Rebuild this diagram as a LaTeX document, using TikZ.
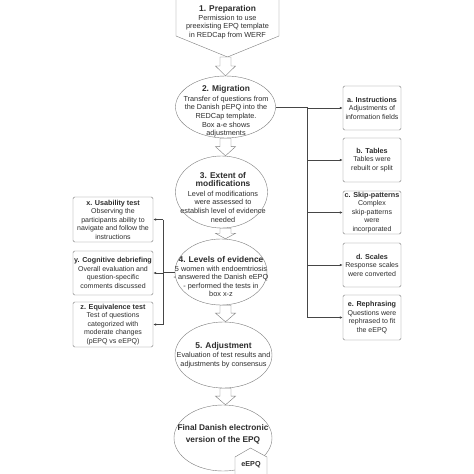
\documentclass[tikz,border=0pt]{standalone}
\usepackage{fontspec}
\setmainfont{Liberation Sans}
\usetikzlibrary{shapes.geometric,arrows.meta,calc}
\definecolor{bordc}{RGB}{125,125,125}
\definecolor{linec}{RGB}{70,70,70}
\definecolor{textc}{RGB}{45,45,45}
\newcommand\etitle[1]{{\fontsize{8.4}{8.6}\selectfont\bfseries #1}}
\newcommand\btitle[1]{{\fontsize{7.2}{8.5}\selectfont\bfseries #1}}
\newcommand\barrow[2]{%
  \path let \p1=(#1), \p2=(#2), \p3=($(#1)!0.48!(#2)$) in
  [draw=bordc, fill=white, line join=miter]
  (\x1-5.5pt,\y1) -- (\x1+5.5pt,\y1) -- (\x1+5.5pt,\y3) -- (\x1+10pt,\y3)
  -- (\x1,\y2) -- (\x1-10pt,\y3) -- (\x1-5.5pt,\y3) -- cycle;}
\tikzset{
  ell/.style={ellipse, draw=bordc, fill=white, inner sep=0pt},
  etext/.style={align=center, text=textc, inner sep=0pt, font=\fontsize{7.3}{8.6}\selectfont},
  box/.style={draw=bordc, fill=white, rounded corners=1.5pt, inner sep=1pt, align=center,
    text=textc, font=\fontsize{7}{8.5}\selectfont, minimum width=58pt, minimum height=44pt},
  lbox/.style={box, minimum width=80pt},
  line/.style={draw=linec, line width=0.6pt},
  conn/.style={line, -{Latex[length=3pt,width=2.6pt]}},
}
\begin{document}
\begin{tikzpicture}[x=1pt, y=-1pt]
\useasboundingbox[fill=white] (0,0) rectangle (474,474);
% 1. Preparation
\draw[bordc, fill=white] (176,-3) -- (279,-3) -- (279,36) -- (227.5,57) -- (176,36) -- cycle;
\coordinate (p1tip) at (227.5,57);
\coordinate (axis) at (225.5,0);
\node[etext] (t1) at (227.5,22) {\etitle{1. Preparation}\\[0.4pt]Permission to use\\preexisting EPQ template\\in REDCap from WERF};
% ellipses
\node[ell, minimum width=100pt, minimum height=62pt] (e2) at (225.5,107) {};
\node[etext] (t2) at (226,111.5) {\etitle{2. Migration}\\[1pt]Transfer of questions from\\the Danish pEPQ into the\\REDCap template.\\Box a-e shows\\adjustments};
\node[ell, minimum width=92pt, minimum height=72pt] (e3) at (221.5,192) {};
\node[etext] (t3) at (223,197) {\etitle{3. Extent of}\\\etitle{modifications}\\[1pt]Level of modifications\\were assessed to\\establish level of evidence\\needed};
\node[ell, minimum width=92pt, minimum height=66pt] (e4) at (221,272) {};
\node[etext] (t4) at (221,276.5) {\etitle{4. Levels of evidence}\\[0.5pt]5 women with endoemtriosis\\- answered the Danish eEPQ\\- performed the tests in\\box x-z};
\node[ell, minimum width=97pt, minimum height=66pt] (e5) at (223.5,355) {};
\node[etext] (t5) at (223.5,355) {\etitle{5. Adjustment}\\[1pt]Evaluation of test results and\\adjustments by consensus};
\node[ell, minimum width=98pt, minimum height=66pt] (e6) at (223,438) {};
\node[etext, font=\fontsize{8.3}{12}\selectfont\bfseries] (t6) at (223,434.5) {Final Danish electronic\\version of the EPQ};
% block arrows
\barrow{p1tip -| axis}{e2.north -| axis}
\barrow{e2.south -| axis}{e3.north -| axis}
\barrow{e3.south -| axis}{e4.north -| axis}
\barrow{e4.south -| axis}{e5.north -| axis}
\barrow{e5.south -| axis}{e6.north -| axis}
% eEPQ tab
\draw[bordc, fill=white] (235,480) -- (235,457) -- (250.5,448) -- (267,457) -- (267,480);
\node[text=textc, font=\fontsize{7.2}{8.5}\selectfont\bfseries] (ep) at (251,464.5) {eEPQ};
% right boxes
\node[box] (a) at (372,108) {\btitle{a. Instructions}\\Adjustments of\\information fields};
\node[box] (b) at (372,160) {\btitle{b. Tables}\\Tables were\\rebuilt or split};
\node[box, minimum height=43pt] (c) at (372,212.5) {\btitle{c. Skip-patterns}\\Complex\\skip-patterns\\were\\incorporated};
\node[box] (d) at (372,265) {\btitle{d. Scales}\\Response scales\\were converted};
\node[box, minimum height=45pt] (e) at (372,317.5) {\btitle{e. Rephrasing}\\Questions were\\rephrased to fit\\the eEPQ};
\coordinate (rt) at (307,0);
\draw[line] (e2.east) -- (e2.east -| rt) -- (e.west -| rt);
\foreach \b in {a,b,c,d,e} \draw[conn] (\b.west -| rt) -- (\b.west);
% left boxes
\node[lbox, minimum height=45pt] (x) at (113,219.5) {\btitle{x. Usability test}\\Observing the\\participants ability to\\navigate and follow the\\instructions};
\node[lbox] (y) at (113,273) {\btitle{y. Cognitive debriefing}\\Overall evaluation and\\question-specific\\comments discussed};
\node[lbox, minimum height=45pt] (z) at (113,324.5) {\btitle{z. Equivalence test}\\Test of questions\\categorized with\\moderate changes\\(pEPQ vs eEPQ)};
\coordinate (lt) at (163,0);
\draw[line] (e4.west) -- (e4.west -| lt);
\draw[line] (x.east -| lt) -- (z.east -| lt);
\foreach \b in {x,y,z} \draw[conn] (\b.east -| lt) -- (\b.east);
\end{tikzpicture}
\end{document}
